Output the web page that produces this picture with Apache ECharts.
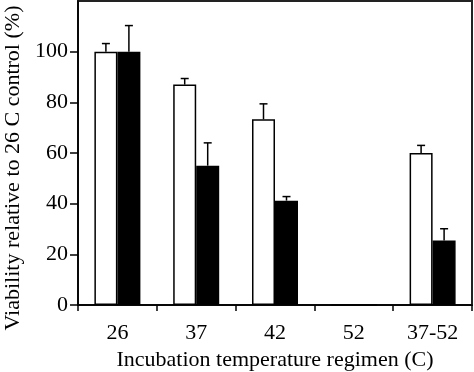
<!DOCTYPE html>
<html><head><meta charset="utf-8">
<script src="https://cdn.jsdelivr.net/npm/echarts@6/dist/echarts.min.js"></script>
<style>html,body{margin:0;padding:0;background:#fff}#c{width:474px;height:372px}</style>
</head><body><div id="c"></div>
<script>
const categories = ['26', '37', '42', '52', '37-52'];
const whiteValues = [100, 87, 73.3, 0, 60];
const whiteErrTop = [103.2, 89.4, 79.4, null, 63];
const blackValues = [100, 55, 41.2, 0, 25.5];
const blackErrTop = [110.3, 64, 42.8, null, 30.1];
const yTicks = [0, 20, 40, 60, 80, 100];

const FONT = '"Liberation Serif", "Times New Roman", serif';
const chart = echarts.init(document.getElementById('c'));

function errSeries(vals, tops, offset) {
  return {
    type: 'custom',
    z: 5,
    data: vals.map((v, i) => [i, v, tops[i]]).filter(d => d[2] != null),
    renderItem: function (params, api) {
      const i = api.value(0);
      const base = api.coord([i, api.value(1)]);
      const top = api.coord([i, api.value(2)]);
      const x = base[0] + offset * 23;
      return {
        type: 'group',
        children: [
          { type: 'line', shape: { x1: x, y1: base[1], x2: x, y2: top[1] }, style: { stroke: '#000', lineWidth: 1.5 } },
          { type: 'line', shape: { x1: x - 4, y1: top[1], x2: x + 4, y2: top[1] }, style: { stroke: '#000', lineWidth: 1.5 } }
        ]
      };
    }
  };
}

chart.setOption({
  animation: false,
  backgroundColor: '#fff',
  grid: { left: 78, right: 2, top: 1, bottom: 67, show: true, borderColor: '#222', borderWidth: 2, containLabel: false, outerBoundsMode: 'none' },
  xAxis: {
    type: 'category',
    data: categories,
    axisLine: { lineStyle: { color: '#000', width: 1.5 } },
    axisTick: { show: true, length: 6, lineStyle: { color: '#000', width: 1.5 } },
    axisLabel: { color: '#000', fontFamily: FONT, fontSize: 22, margin: 17 },
    name: 'Incubation temperature regimen (C)',
    nameLocation: 'middle',
    nameGap: 41,
    nameTextStyle: { color: '#000', fontFamily: FONT, fontSize: 22 }
  },
  yAxis: {
    type: 'value',
    min: 0, max: 120, interval: 20,
    splitLine: { show: false },
    axisLine: { show: true, lineStyle: { color: '#000', width: 1.5 } },
    axisTick: { show: true, length: 8, lineStyle: { color: '#000', width: 1.5 }, customValues: yTicks },
    axisLabel: { color: '#000', fontFamily: FONT, fontSize: 22, margin: 10, customValues: yTicks },
    name: 'Viability relative to 26 C control (%)',
    nameLocation: 'middle',
    nameGap: 54,
    nameTextStyle: { color: '#000', fontFamily: FONT, fontSize: 22, padding: [0, 30, 0, 0] }
  },
  series: [
    {
      type: 'bar', data: whiteValues, barWidth: 23, barGap: '0%',
      itemStyle: { color: '#fff', borderColor: '#000', borderWidth: 1.5 }
    },
    {
      type: 'bar', data: blackValues, barWidth: 23, barGap: '0%',
      itemStyle: { color: '#000', borderColor: '#000', borderWidth: 1.5 }
    },
    errSeries(whiteValues, whiteErrTop, -0.5),
    errSeries(blackValues, blackErrTop, 0.5)
  ]
});
</script></body></html>
